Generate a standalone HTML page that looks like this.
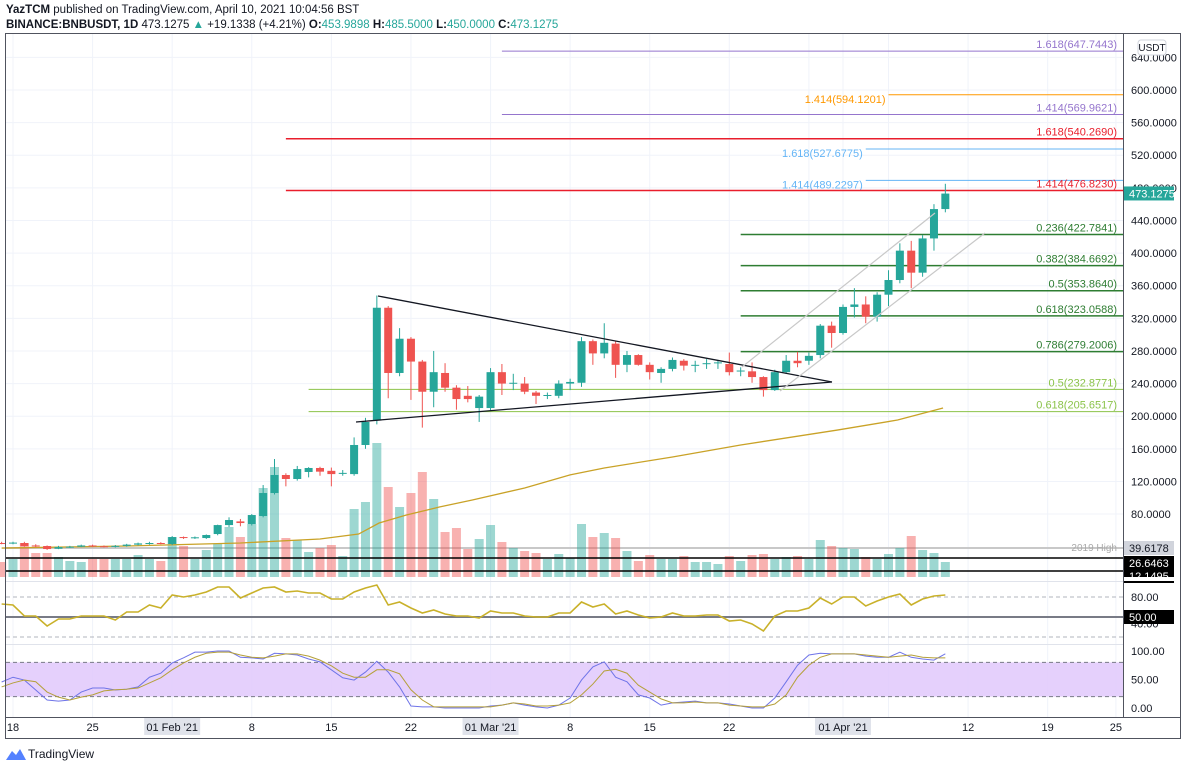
<!DOCTYPE html>
<html><head><meta charset="utf-8">
<style>
html,body{margin:0;padding:0;background:#fff;}
body{width:1186px;height:768px;overflow:hidden;font-family:"Liberation Sans",Arial,sans-serif;}
svg text{font-family:"Liberation Sans",Arial,sans-serif;}
</style></head>
<body>
<svg id="chart" width="1186" height="768" viewBox="0 0 1186 768" xmlns="http://www.w3.org/2000/svg">
  <text x="6" y="13" font-size="11.5" fill="#131722"><tspan font-weight="bold">YazTCM</tspan> published on TradingView.com, April 10, 2021 10:04:56 BST</text>
  <text x="6" y="28" font-size="11.5" fill="#131722"><tspan font-weight="bold">BINANCE:BNBUSDT, 1D</tspan> 473.1275 <tspan fill="#26a69a">▲</tspan> +19.1338 (+4.21%) <tspan font-weight="bold">O:</tspan><tspan fill="#26a69a">453.9898</tspan> <tspan font-weight="bold">H:</tspan><tspan fill="#26a69a">485.5000</tspan> <tspan font-weight="bold">L:</tspan><tspan fill="#26a69a">450.0000</tspan> <tspan font-weight="bold">C:</tspan><tspan fill="#26a69a">473.1275</tspan></text>
  <g id="grid"></g>
  <g id="panels"></g>
  <g id="fibs"></g>
  <g id="vol"></g>
  <g id="ma"></g>
  <g id="candles"></g>
  <g id="draw"></g>
  <g id="rsi"></g>
  <g id="stoch"></g>
  <g id="axes"></g>
  <rect x="5.5" y="33.5" width="1175" height="705" fill="none" stroke="#50535e" stroke-width="1"/>
  <g>
    <path d="M6 760 L12 751 L16 755 L20 749 L26 760 Z" fill="#2962ff" opacity="0.8"/>
    <text x="28" y="758" font-size="12" fill="#131722">TradingView</text>
  </g>
</svg>
<script>
// ---- data ----
const dayLabels = ["18","25","01 Feb '21","8","15","22","01 Mar '21","8","15","22","01 Apr '21","12","19","25"];
const dayLabelIdx = [0,7,14,21,28,35,42,49,56,63,73,84,91,97];
const priceTicks = [640,600,560,520,480,440,400,360,320,280,240,200,160,120,80];
const opens  = [44.5,44,44.5,41.5,40.8,37.5,39.5,40,41.5,40.5,40,41,42.5,44,44.5,43.3,51.8,50.6,50.6,55.5,66.5,71,67.8,77.6,105.8,127.9,123,131.6,136.5,133,130,129,164.7,195,333,253,295,267,230,253,235,225,210,210,254,240,240,229,225,225,240,241,292,277,289,263,275,263,253,258,268,262,264,265,264,255,255,248,232,254,268,268,275,311,302,334,337,322,349,367,403,376,418,454];
const closes = [44,45,40.8,40.5,37.1,39.5,40,41.5,40.5,40,41,42.5,44,44.5,44,51.8,50.6,51.5,54.3,66.5,72.7,69,78.8,105.8,127.9,123,135.2,136.5,132,129,130.5,164.7,192.9,333,253,295,267,230,254,235,221,221,224,254,240,241,230,225,226,240,242,292,277,290,263,275,263,254,258,269,262,263,265,266,254,256,248,232,254,268,265,274,311,302,334,337,322,349,367,403,376,418,454,473];
const highs  = [46,46,46,43,41.5,41,41,42.5,42.5,41.5,42,43.5,45,46,45.5,53,52.5,52.5,55,67,76,74,80,115.6,147.5,130,139,137.5,138,137,134,174,198,348,335,308,297,269,280,265,238,237,226,259,264,252,248,231,229,244,246,297,294,314,292,280,276,266,260,272,270,268,270,269,278,260,266,249,257,275,279,278,313,316,337,357,347,352,379,412,415,422,460,485];
const lows   = [43,43,40,39.5,36,37,38.5,39.5,39.5,39,39,40,41.5,42.5,43,42,49.5,49.5,49.5,54,64,65,66,76,104,114,121,125,127,114,127,127,160,190,222,249,220,186,211,230,208,217,193,207,226,232,227,215,221,222,232,236,263,271,247,254,262,245,241,255,256,254,258,258,250,249,241,224,231,252,260,263,271,284,300,321,314,316,335,363,357,371,403,450];
const volumes = [15,18,34,24,24,20,16,15,18,18,18,18,22,18,16,40,31,18,27,33,50,40,53,89,110,39,37,25,29,32,21,68,75,134,90,70,84,105,78,45,49,28,38,52,35,29,26,24,18,23,19,53,40,44,39,26,16,22,18,18,21,15,15,13,21,16,22,23,18,20,21,18,37,31,29,28,20,18,23,29,41,27,24,15];
const maDays = [-1,10,20,27,30.4,32.2,34.6,37.5,40.4,45,49,52,58,64,72.5,77.8,81.8];
const maValues = [38.3,40.8,44.5,49.4,55.5,69,78.8,88.6,97.2,112,128,136.5,150,164.7,183,195.3,210];
const rsiValues = [69.5,68,51.5,51.5,36.5,47,47,51.5,51.5,51.5,45.5,57.5,57.5,68,63.5,83,80,83,87.5,95,95,78.5,86,93.5,95,87.5,89,86,86,77,77,87.5,93.5,98,68,72.5,63.5,56,60.5,54.5,51.5,51.5,48.5,59,56,56,51.5,50,50,56,56,72.5,65,69.5,54.5,59,53,48.5,50,56,51.5,51.5,53,53,44,45.5,39.5,29,51.5,59,59,63.5,78.5,69.5,80,80,66.5,74,80,84.5,68,77,81.5,83];
const stochK = [45.6,54,49,31.6,14,12,14,28,35,35,31.6,33,37,54,61,79,88,98,98,100,100,89,88,86,96,95,93,86,81,67,53,49,63,82,63,37,3.5,2,2,0,0,0,0,3.5,5,9,5,2,0,5,17.5,49,72,81,54,46,23,17.5,5,9,10.5,12,9,9,7,3.5,0,0,17.5,46,75,93,96,95,95,95,91,89,89,98,89,86,84,95];
const stochD = [37,44,49,46,28,19,14,19,23,30,32,33,35,44,53,67,79,89,96,98,98,93,89,88,91,95,95,91,84,74,61,54,54,67,67,60,32,14,2,2,2,2,2,2,5,9,7,3.5,3.5,5,9,23,42,65,68,61,40,28,16,9,9,10.5,9,9,5,3.5,2,2,7,23,54,75,89,95,95,95,93,91,89,91,93,89,88,88];
const firstDay = -1;
const fibLevels = [
 {t:"1.618(647.7443)",p:647.7443,d0:43,c:"#9575cd",lab:"right"},
 {t:"1.414(594.1201)",p:594.1201,d0:77,c:"#ff9800",lab:"left"},
 {t:"1.414(569.9621)",p:569.9621,d0:43,c:"#9575cd",lab:"right"},
 {t:"1.618(540.2690)",p:540.269,d0:24,c:"#e91e2c",lab:"right"},
 {t:"1.618(527.6775)",p:527.6775,d0:75,c:"#64b5f6",lab:"left"},
 {t:"1.414(489.2297)",p:489.2297,d0:75,c:"#64b5f6",lab:"left"},
 {t:"1.414(476.8230)",p:476.823,d0:24,c:"#e91e2c",lab:"right"},
 {t:"0.236(422.7841)",p:422.7841,d0:64,c:"#2e7d32",lab:"right"},
 {t:"0.382(384.6692)",p:384.6692,d0:64,c:"#2e7d32",lab:"right"},
 {t:"0.5(353.8640)",p:353.864,d0:64,c:"#2e7d32",lab:"right"},
 {t:"0.618(323.0588)",p:323.0588,d0:64,c:"#2e7d32",lab:"right"},
 {t:"0.786(279.2006)",p:279.2006,d0:64,c:"#2e7d32",lab:"right"},
 {t:"0.5(232.8771)",p:232.8771,d0:26,c:"#8bc34a",lab:"right"},
 {t:"0.618(205.6517)",p:205.6517,d0:26,c:"#8bc34a",lab:"right"}
];
// ---- scales ----
const NS="http://www.w3.org/2000/svg";
const X = d => 13 + d*11.37;
const Y = p => 90 + (600-p)*0.8155;
const VY = v => 577 - v;
const RY = v => 617 - (v-50)/1.5;
const SY = v => 708 - v*0.57;
const RIGHT = 1123;
function mk(tag, attrs, parent){const e=document.createElementNS(NS,tag);for(const k in attrs)e.setAttribute(k,attrs[k]);parent.appendChild(e);return e;}
const g = id=>document.getElementById(id);

// grid
const grid=g('grid');
priceTicks.forEach(p=>{const l=mk('line',{x1:6,x2:RIGHT,y1:Y(p),y2:Y(p),stroke:'#f0f3fa'},grid);

});
[...dayLabelIdx,70,77].forEach(d=>{const l=mk('line',{x1:X(d),x2:X(d),y1:34,y2:717,stroke:'#f0f3fa'},grid);

});

// panels
const pn=g('panels');
mk('line',{x1:6,x2:1180,y1:581.5,y2:581.5,stroke:'#e0e3eb'},pn);
mk('line',{x1:6,x2:1180,y1:644.5,y2:644.5,stroke:'#e0e3eb'},pn);
mk('line',{x1:6,x2:1180,y1:717.5,y2:717.5,stroke:'#50535e'},pn);
mk('line',{x1:RIGHT+0.5,x2:RIGHT+0.5,y1:34,y2:717,stroke:'#50535e'},pn);
const band=mk('rect',{x:6,y:SY(80),width:RIGHT-6,height:SY(20)-SY(80),fill:'#e1c8fb',opacity:0.85},pn);


[80,20].forEach(v=>mk('line',{x1:6,x2:RIGHT,y1:SY(v),y2:SY(v),stroke:'#787b86','stroke-dasharray':'4 3'},pn));
[80,20].forEach(v=>mk('line',{x1:6,x2:RIGHT,y1:RY(v),y2:RY(v),stroke:'#b2b5be','stroke-dasharray':'4 3'},pn));
const mid=mk('line',{x1:6,x2:RIGHT,y1:RY(50),y2:RY(50),stroke:'#787b86','stroke-width':2},pn);



// fib lines
const fb=g('fibs');
fibLevels.forEach(f=>{
  const y=Y(f.p), x0=X(f.d0);
  const l=mk('line',{x1:x0,x2:RIGHT,y1:y,y2:y,stroke:f.c,'stroke-width':(f.c==='#e91e2c'||f.c==='#2e7d32')?1.5:1},fb);
  
  
  const t=mk('text',{'font-size':11,fill:f.c},fb);
  if(f.lab==='right'){t.setAttribute('x',RIGHT-6);t.setAttribute('y',y-3);t.setAttribute('text-anchor','end');}
  else{t.setAttribute('x',x0-3);t.setAttribute('y',y+8);t.setAttribute('text-anchor','end');}
  t.textContent=f.t;
  
  
});
// 2019 high + black lines
const hl=mk('line',{x1:6,x2:RIGHT,y1:548,y2:548,stroke:'#c8c8c8','stroke-width':2},fb);


const ht=mk('text',{x:RIGHT-6,y:551,'font-size':10,fill:'#aaa','text-anchor':'end'},fb);ht.textContent='2019 High';



// volume
const vg=g('vol');
volumes.forEach((v,i)=>{const d=i+firstDay;const up=closes[i]>=opens[i];
  const r=mk('rect',{x:X(d)-4.5,y:VY(v),width:9,height:v,fill:up?'rgba(38,166,154,0.45)':'rgba(239,83,80,0.45)'},vg);
  
  });
[558,571].forEach(y=>{const l=mk('line',{x1:6,x2:RIGHT,y1:y,y2:y,stroke:'#000','stroke-width':1.5},vg);

});

// MA
const maPts=maDays.map((d,i)=>X(d)+','+Y(maValues[i])).join(' ');
const ma=mk('polyline',{points:maPts,fill:'none',stroke:'#c9a227','stroke-width':1.3},g('ma'));



// candles
const cg=g('candles');
opens.forEach((o,i)=>{const d=i+firstDay,c=closes[i],x=X(d);const up=c>=o;const col=up?'#26a69a':'#ef5350';
  const w=mk('line',{x1:x,x2:x,y1:Y(highs[i]),y2:Y(lows[i]),stroke:col,'stroke-width':1},cg);
  
  
  const top=Y(Math.max(o,c)),h=Math.max(1,Y(Math.min(o,c))-top);
  const b=mk('rect',{x:x-4,y:top,width:8,height:h,fill:col},cg);
  
  });

// drawings
const dg=g('draw');
[[378,296,832,382],[356,422,832,382]].forEach(s=>{const l=mk('line',{x1:s[0],y1:s[1],x2:s[2],y2:s[3],stroke:'#131722','stroke-width':1.3},dg);

});
[[742,367,935,213],[780,391,985,233]].forEach(s=>{const l=mk('line',{x1:s[0],y1:s[1],x2:s[2],y2:s[3],stroke:'#c8c8c8','stroke-width':1.2},dg);

});

// RSI
const rp=rsiValues.map((v,i)=>X(i+firstDay)+','+RY(v)).join(' ');
const rl=mk('polyline',{points:rp,fill:'none',stroke:'#c9b12a','stroke-width':1.6},g('rsi'));



// Stoch
const sk=mk('polyline',{points:stochK.map((v,i)=>X(i+firstDay)+','+SY(v)).join(' '),fill:'none',stroke:'#6f74e8','stroke-width':1},g('stoch'));


const sd=mk('polyline',{points:stochD.map((v,i)=>X(i+firstDay)+','+SY(v)).join(' '),fill:'none',stroke:'#b5a03a','stroke-width':1},g('stoch'));



// axes
const ax=g('axes');
mk('rect',{x:RIGHT+1,y:34,width:57,height:683,fill:'#fff'},ax);
priceTicks.forEach(p=>{const t=mk('text',{x:1131,y:Y(p)+4,'font-size':11,fill:'#131722'},ax);t.textContent=p.toFixed(4);

});
const ub=mk('rect',{x:1138,y:40,width:28,height:15,rx:3,fill:'#fff',stroke:'#d1d4dc'},ax);


const ut=mk('text',{x:1152,y:51,'font-size':10,'text-anchor':'middle',fill:'#131722'},ax);ut.textContent='USDT';
function tag(y,txt,bg,fg,name){const r=mk('rect',{x:RIGHT+1,y:y-7,width:50,height:14,fill:bg},ax);
 
 
 const t=mk('text',{x:1129,y:y+4,'font-size':11,fill:fg},ax);t.textContent=txt;}
tag(Y(473.1275),'473.1275','#26a69a','#fff','last-price-tag');
tag(548,'39.6178','#d1d4dc','#131722','2019-high-tag');
tag(563,'26.6463','#000','#fff','line-tag-upper');
tag(576,'12.1495','#000','#fff','line-tag-lower');
mk('rect',{x:RIGHT+1,y:577,width:57,height:4,fill:'#fff'},ax);
[[80,'80.00'],[40,'40.00']].forEach(a=>{const t=mk('text',{x:1131,y:RY(a[0])+4,'font-size':11,fill:'#131722'},ax);t.textContent=a[1];});
tag(RY(50),'50.00','#000','#fff','rsi-50-tag');
[[100,'100.00'],[50,'50.00'],[0,'0.00']].forEach(a=>{const t=mk('text',{x:1131,y:SY(a[0])+4,'font-size':11,fill:'#131722'},ax);t.textContent=a[1];

});
dayLabels.forEach((s,i)=>{const x=X(dayLabelIdx[i]);
 if(s.length>3){const r=mk('rect',{x:x-28,y:718,width:56,height:17,fill:'#e0e3eb'},ax);}
 const t=mk('text',{x:x,y:731,'font-size':11,'text-anchor':'middle',fill:'#131722'},ax);t.textContent=s;
 
 });
</script>
</body></html>
